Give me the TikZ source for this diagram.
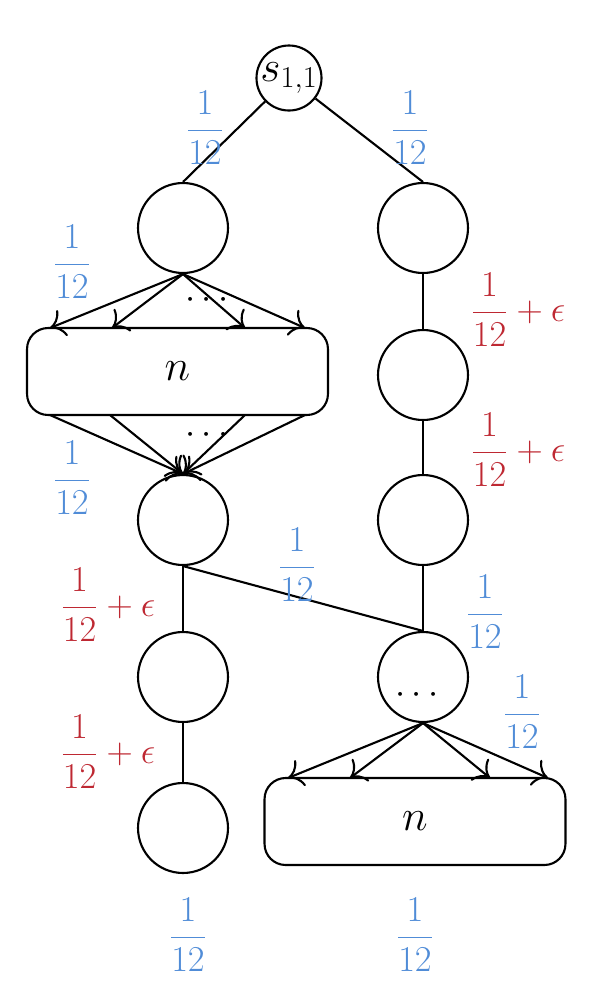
\documentclass[tikz,border=0pt]{standalone}
\usepackage{amsmath}
\usetikzlibrary{arrows.meta}
\definecolor{cb}{RGB}{80,140,215}
\definecolor{cr}{RGB}{190,40,50}
\begin{document}
\begin{tikzpicture}[x=0.02cm,y=-0.02cm,line width=1.2pt,
  st/.style={circle,draw,minimum size=1.8cm,inner sep=0pt,font=\fontsize{24}{28}\selectfont},
  bx/.style={draw,rounded corners=12pt,minimum width=6.02cm,minimum height=1.74cm,font=\fontsize{24}{28}\selectfont},
  lb/.style={text=cb,font=\fontsize{22}{26}\selectfont},
  lr/.style={text=cr,font=\fontsize{22}{26}\selectfont},
  ar/.style={-{To[length=8pt,width=16pt]}},
  dt/.style={font=\fontsize{22}{26}\selectfont}]
\useasboundingbox (0,0) rectangle (600,985);
\node[st,minimum size=1.28cm] (s) at (289,78) {$s_{1,1}$};
\node[st] (L1) at (183,228) {};
\node[st] (R1) at (423,228) {};
\node[bx] (BL) at (177.5,371.5) {$n$};
\node[st] (R2) at (423,375) {};
\node[st] (R3) at (423,520) {};
\node[st] (L2) at (183,520) {};
\node[st] (L3) at (183,677) {};
\node[st] (R4) at (423,677) {};
\node[st] (L4) at (183,828) {};
\node[bx] (BR) at (415,821.5) {$n$};
\draw (s) -- (L1.north); \draw (s) -- (R1.north);
\foreach \x in {50,112,245,305} \draw[ar] (L1.south) -- (\x,328);
\foreach \x in {50,110,245,305} \draw[ar] (\x,415) -- (L2.north);
\draw (L2.south) -- (L3.north); \draw (L3.south) -- (L4.north);
\draw (L2.south) -- (R4.north);
\draw (R1) -- (R2); \draw (R2) -- (R3); \draw (R3) -- (R4);
\foreach \x in {288,350,490,548} \draw[ar] (R4.south) -- (\x,778);
\node[dt] (d1) at (210,300) {$\cdots$};
\node[dt] (d2) at (210,435) {$\cdots$};
\node[dt] (d3) at (420,695) {$\cdots$};
\node[lb] (a1) at (205,128) {$\dfrac{1}{12}$};
\node[lb] (a2) at (410,128) {$\dfrac{1}{12}$};
\node[lb] (a3) at (72,262) {$\dfrac{1}{12}$};
\node[lb] (a4) at (72,478) {$\dfrac{1}{12}$};
\node[lb] (a5) at (297,565) {$\dfrac{1}{12}$};
\node[lb] (a6) at (485,612) {$\dfrac{1}{12}$};
\node[lb] (a7) at (522,712) {$\dfrac{1}{12}$};
\node[lb] (a8) at (188,935) {$\dfrac{1}{12}$};
\node[lb] (a9) at (415,935) {$\dfrac{1}{12}$};
\node[lr] (b1) at (518,310) {$\dfrac{1}{12}+\epsilon$};
\node[lr] (b2) at (518,450) {$\dfrac{1}{12}+\epsilon$};
\node[lr] (b3) at (108,605) {$\dfrac{1}{12}+\epsilon$};
\node[lr] (b4) at (108,752) {$\dfrac{1}{12}+\epsilon$};
\end{tikzpicture}
\end{document}
